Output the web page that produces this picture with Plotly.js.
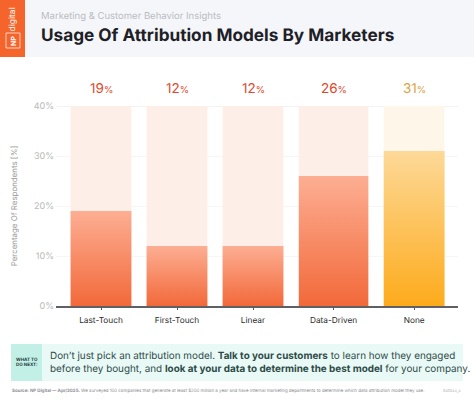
<!DOCTYPE html>
<html><head><meta charset="utf-8">
<script src="https://cdn.plot.ly/plotly-3.0.1.min.js"></script>
<style>html,body{margin:0;padding:0;background:#fff}#c{width:474px;height:403px}
text{text-rendering:geometricPrecision}</style>
</head><body><div id="c"></div>
<script>
const categories = ["Last-Touch","First-Touch","Linear","Data-Driven","None"];
const values = [19,12,12,26,31];
const fullScale = [40,40,40,40,40];
const yTicks = [0,10,20,30,40];
const barCenters = [0,1,2,3.06,4.12];
const barWidths = [0.8,0.8,0.8,0.915,0.8];
const labelColors = ["#e0482a","#e0482a","#e0482a","#e0482a","#dba23c"];
const trackColors = ["#fdeee8","#fdeee8","#fdeee8","#fdeee8","#fff6ea"];
const gradients = [["#fdae93","#f2693a"],["#fdae93","#f2693a"],["#fdae93","#f2693a"],["#fdae93","#f2693a"],["#fdd998","#fdab1c"]];
const W=474,H=403,ml=56,mr=16,mt=106,mb=97;
const FONT="Inter, sans-serif";
const px=x=>(x-ml)/(W-ml-mr), py=y=>1-(y-mt)/(H-mt-mb);
const rect=(x0,y0,x1,y1,c,layer)=>({type:"rect",xref:"paper",yref:"paper",x0:px(x0),x1:px(x1),y0:py(y0),y1:py(y1),fillcolor:c,line:{width:0},layer:layer||"below"});
const note=(x,y,text,size,color,extra)=>Object.assign({xref:"paper",yref:"paper",x:px(x),y:py(y),text,showarrow:false,xanchor:"left",yanchor:"middle",font:{family:FONT,size,color}},extra||{});
const traces=[
 {type:"bar",x:barCenters,y:fullScale,width:barWidths,marker:{color:trackColors,line:{width:0}},hoverinfo:"skip"},
 {type:"bar",x:barCenters,y:values,width:barWidths,marker:{color:gradients.map(g=>g[1]),line:{width:0}},hoverinfo:"skip"}
];
const annotations=[
 note(39,16.5,"Marketing &amp; Customer Behavior Insights",9.5,"#b9bcc2"),
 note(39,35,"<b>Usage Of Attribution Models By Marketers</b>",17.2,"#1d2026"),
 note(12.5,20,"digital",8.5,"#ffffff",{textangle:-90,xanchor:"center"}),
 note(13,41,"<b>NP</b>",7,"#ffffff",{textangle:-90,xanchor:"center"}),
 note(26.5,359.5,"<b>WHAT TO</b>",4.5,"#1d3b3a",{xanchor:"center"}),
 note(26.5,365,"<b>DO NEXT:</b>",4.5,"#1d3b3a",{xanchor:"center"}),
 note(48,356,"Don’t just pick an attribution model. <b>Talk to your customers</b> to learn how they engaged",9.9,"#2d4a48"),
 note(48,369,"before they bought, and <b>look at your data to determine the best model</b> for your company.",9.9,"#2d4a48"),
 note(9.5,391,"<b>Source: NP Digital — Apr/2025.</b> We surveyed 100 companies that generate at least $200 million a year and have internal marketing departments to determine which data attribution model they use.",4.45,"#8a8d92"),
 note(463,391,"040344_A",3.6,"#a8abaf",{xanchor:"right"})
];
values.forEach((v,i)=>annotations.push({
 xref:"x",yref:"paper",x:barCenters[i],y:py(88.5),showarrow:false,xanchor:"center",yanchor:"middle",
 text:v+"<span style='font-size:9.5px'>%</span>",font:{family:FONT,size:13.5,color:labelColors[i]}}));
const shapes=[
 rect(25,0,474,57,"#f5f6f9"),
 rect(0,0,25,57,"#f5652b"),
 {type:"rect",xref:"paper",yref:"paper",x0:px(6),x1:px(20),y0:py(33),y1:py(48),fillcolor:"rgba(0,0,0,0)",line:{color:"#ffffff",width:0.7},layer:"above"},
 rect(11,344,463,381,"#e9f9f6"),
 rect(11,344,42,381,"#c2f0e6"),
 {type:"line",xref:"paper",yref:"y",x0:0,x1:1,y0:40,y1:40,line:{color:"#eeeeee",width:1.5},layer:"below"}
];
const layout={
 width:W,height:H,margin:{l:ml,r:mr,t:mt,b:mb},paper_bgcolor:"#fff",plot_bgcolor:"#fff",
 barmode:"overlay",showlegend:false,font:{family:FONT},
 xaxis:{type:"linear",range:[-0.592,4.697],tickvals:barCenters,ticktext:categories,showgrid:false,zeroline:false,
  ticks:"outside",ticklen:2,tickwidth:1,tickcolor:"#555",showline:true,linecolor:"#5f6064",linewidth:1.5,ticklabelstandoff:4,
  tickfont:{family:FONT,size:8.3,color:"#2b2b2b"}},
 yaxis:{range:[0,40],tickvals:yTicks,ticktext:yTicks.map(v=>v+"%"),gridcolor:"#f6f6f6",gridwidth:1,zeroline:false,showline:false,ticks:"",ticklabelstandoff:1,
  tickfont:{family:FONT,size:9,color:"#b8b8b8"},
  title:{text:"Percentage Of Respondents [%]",font:{family:FONT,size:7.9,color:"#9a9a9a"},standoff:14}},
 shapes,annotations
};
function paint(gd){
 const svg=gd.querySelector("svg.main-svg");
 const NS="http://www.w3.org/2000/svg";
 let defs=svg.querySelector("defs");
 if(!svg.querySelector("#grad0")){
  gradients.forEach((g,i)=>{
   const lg=document.createElementNS(NS,"linearGradient");
   lg.setAttribute("id","grad"+i);lg.setAttribute("x1","0");lg.setAttribute("y1","0");lg.setAttribute("x2","0");lg.setAttribute("y2","1");
   g.forEach((c,k)=>{const s=document.createElementNS(NS,"stop");s.setAttribute("offset",k?"1":"0");s.setAttribute("stop-color",c);lg.appendChild(s);});
   defs.appendChild(lg);
  });
 }
 const tr=gd.querySelectorAll(".barlayer .trace")[1];
 tr.querySelectorAll(".point path").forEach((p,i)=>{p.style.fill="url(#grad"+i+")";});
}
Plotly.newPlot("c",traces,layout,{staticPlot:true,displayModeBar:false}).then(gd=>{paint(gd);gd.on("plotly_afterplot",()=>paint(gd));});
</script></body></html>
